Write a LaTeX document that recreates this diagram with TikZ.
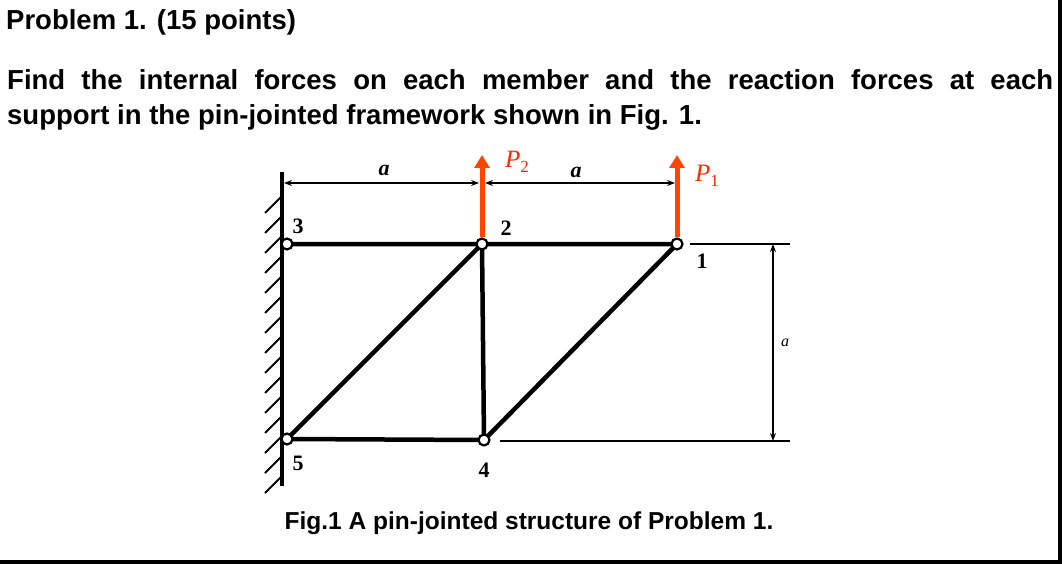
\documentclass[tikz,border=0pt]{standalone}
\usepackage{fontspec}
\setmainfont{Liberation Sans}
\newfontfamily\tms{Liberation Serif}
\usetikzlibrary{arrows.meta}
\newcommand{\sbs}[1]{\raisebox{-5pt}{\tms\upshape\fontsize{17}{17}\selectfont #1}}
\begin{document}
\begin{tikzpicture}[x=1pt,y=-1pt,
  bar/.style={line width=4.5pt},
  pin/.style={circle,draw,line width=2.2pt,fill=white,inner sep=0pt,minimum size=11pt},
  force/.style={line width=5pt,draw={rgb,255:red,255;green,69;blue,0},-{Triangle[length=13pt,width=15pt]}},
  dim/.style={line width=1.2pt,{Stealth[length=8pt]}-{Stealth[length=8pt]}},
  lbl/.style={font=\tms\fontsize{22}{22}\selectfont\bfseries},
  ital/.style={font=\tms\fontsize{22}{22}\selectfont\bfseries\itshape},
  frc/.style={font=\tms\fontsize{25}{25}\selectfont\itshape,text={rgb,255:red,255;green,40;blue,0}},
  txt/.style={font=\fontsize{27.5}{27.5}\selectfont\bfseries,anchor=west,inner sep=0pt}]
\useasboundingbox (0,0) rectangle (1064,564);
\draw[line width=4pt] (1060,0) -- (1060,562) -- (0,562);
\node[txt] (t1) at (6,22) {Problem 1. (15 points)};
\node[txt] (t2) at (7,80) {\makebox[1046pt][s]{Find the internal forces on each member and the reaction forces at each}};
\node[txt] (t3) at (7,117) {support in the pin-jointed framework shown in Fig. 1.};
\node[font=\fontsize{24.5}{24.5}\selectfont\bfseries] (cap) at (529,523) {Fig.1 A pin-jointed structure of Problem 1.};
% wall
\coordinate (wt) at (282,172);
\coordinate (wb) at (282,486);
\draw[line width=3.5pt] (wt) -- (wb);
\foreach \y in {196,216,...,476} \draw[line width=2pt] (282,\y) -- (265,\y+17);
\coordinate (n3) at (287,244);
\coordinate (n2) at (482,244);
\coordinate (n1) at (677,244);
\coordinate (n5) at (287,439);
\coordinate (n4) at (484,440);
\draw[bar] (n3) -- (n2) -- (n1) -- (n4) -- (n5) -- (n2) -- (n4);
\node[pin] (p3) at (n3) {};
\node[pin] (p2) at (n2) {};
\node[pin] (p1) at (n1) {};
\node[pin] (p5) at (n5) {};
\node[pin] (p4) at (n4) {};
\node[lbl] (l3) at (298,226) {3};
\node[lbl] (l2) at (506,228) {2};
\node[lbl] (l1) at (702,261) {1};
\node[lbl] (l5) at (298,463) {5};
\node[lbl] (l4) at (484,470) {4};
% forces
\coordinate (f2) at (482,155);
\coordinate (f1) at (677,155);
\draw[force] (p2.north) -- (f2);
\draw[force] (p1.north) -- (f1);
\node[frc] (P2) at (517,162) {P\sbs{2}};
\node[frc] (P1) at (707,176) {P\sbs{1}};
% dims
\coordinate (d0) at (284,183);
\coordinate (d1) at (479,183);
\coordinate (d2) at (485,183);
\coordinate (d3) at (675,183);
\draw[dim] (d0) -- (d1);
\draw[dim] (d2) -- (d3);
\node[ital] (a1) at (384,170) {a};
\node[ital] (a2) at (576,172) {a};
\coordinate (h1a) at (690,244); \coordinate (h1b) at (790,244);
\coordinate (h2a) at (500,441); \coordinate (h2b) at (790,441);
\draw[line width=1.3pt] (h1a) -- (h1b);
\draw[line width=1.3pt] (h2a) -- (h2b);
\coordinate (v1) at (773,244); \coordinate (v2) at (773,441);
\draw[dim] (v1) -- (v2);
\node[font=\tms\fontsize{16}{16}\selectfont\itshape] (a3) at (785,343) {a};
\end{tikzpicture}
\end{document}
